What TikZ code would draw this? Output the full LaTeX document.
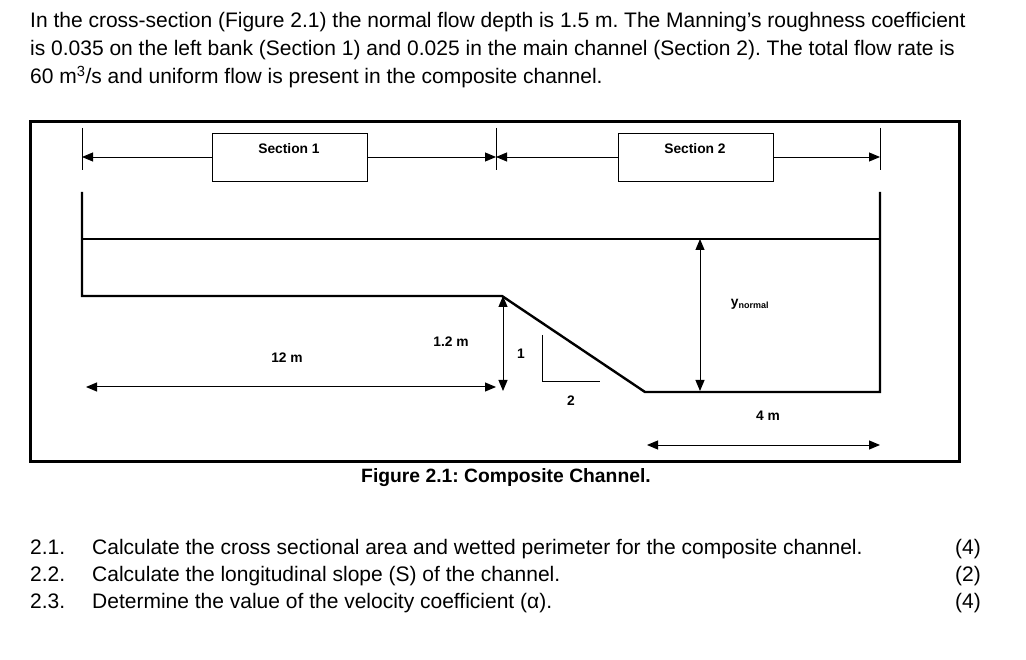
\documentclass[tikz,border=0pt]{standalone}
\usepackage{fontspec}
\setmainfont{Liberation Sans}
\usetikzlibrary{arrows.meta}
\frenchspacing
\begin{document}
\begin{tikzpicture}[x=1pt,y=-1pt,
  txt/.style={anchor=base west,inner sep=0pt,font=\fontsize{21}{24}\selectfont},
  lab/.style={inner sep=0pt,font=\fontsize{13.8}{16}\selectfont\bfseries},
  wall/.style={line width=2.4pt,line join=miter},
  sarr/.style={line width=0.9pt,-{Triangle[length=11pt,width=9pt]}},
  dim/.style={line width=1pt,{Triangle[length=11pt,width=9pt]}-{Triangle[length=11pt,width=9pt]}},
  box/.style={draw,line width=0.9pt,minimum width=155pt,minimum height=48pt,anchor=north west,inner sep=0pt}]
\useasboundingbox (0,0) rectangle (1026,660);
% paragraph
\node[txt] (p1) at (30,28) {In the cross-section (Figure 2.1) the normal flow depth is 1.5 m. The Manning’s roughness coefficient};
\node[txt] (p2) at (30,56) {is 0.035 on the left bank (Section 1) and 0.025 in the main channel (Section 2). The total flow rate is};
\node[txt] (p3) at (30,84) {60 m\textsuperscript{3}/s and uniform flow is present in the composite channel.};
% frame
\draw[line width=3pt] (30,122) rectangle (959,461);
% section dims
\draw[line width=0.9pt] (82,128)--(82,170) (496,128)--(496,170) (880,128)--(880,170);
\node[box] (s1) at (212,133) {};
\node[lab] at (289,149) {Section 1};
\node[box] (s2) at (618,133) {};
\node[lab] at (695,149) {Section 2};
\coordinate (a) at (82,157); \coordinate (b) at (496,157); \coordinate (c) at (880,157);
\draw[sarr] (s1.west|-a) -- (a);
\draw[sarr] (s1.east|-a) -- (b);
\draw[sarr] (s2.west|-a) -- (b);
\draw[sarr] (s2.east|-a) -- (c);
% channel
\draw[wall] (82,192) -- (82,296) -- (502,296) -- (645,392) -- (880,392) -- (880,192);
\draw[line width=1.1pt] (82,239) -- (880,239);
% dims
\draw[dim] (503,296) -- (503,391);
\node[lab] at (451,342) {1.2 m};
\draw[dim] (86,387) -- (496,387);
\node[lab] at (287,358) {12 m};
\draw[line width=0.9pt] (542,335) -- (542,381) -- (600,381);
\node[lab] at (521,354) {1};
\node[lab] at (571,401) {2};
\draw[dim] (700,239) -- (700,391);
\node[lab] at (750,304) {y\textsubscript{\fontsize{9}{10}\selectfont normal}};
\draw[dim] (647,445) -- (880,445);
\node[lab] at (768,416) {4 m};
\node[lab,font=\fontsize{19.3}{22}\selectfont\bfseries] at (506,478) {Figure 2.1: Composite Channel.};
% questions
\node[txt] at (30,554) {2.1.}; \node[txt] at (92,554) {Calculate the cross sectional area and wetted perimeter for the composite channel.};
\node[txt] at (30,581) {2.2.}; \node[txt] at (92,581) {Calculate the longitudinal slope (S) of the channel.};
\node[txt] at (30,608) {2.3.}; \node[txt] at (92,608) {Determine the value of the velocity coefficient (α).};
\node[txt,anchor=base east] at (981,554) {(4)};
\node[txt,anchor=base east] at (981,581) {(2)};
\node[txt,anchor=base east] at (981,608) {(4)};
\end{tikzpicture}
\end{document}
